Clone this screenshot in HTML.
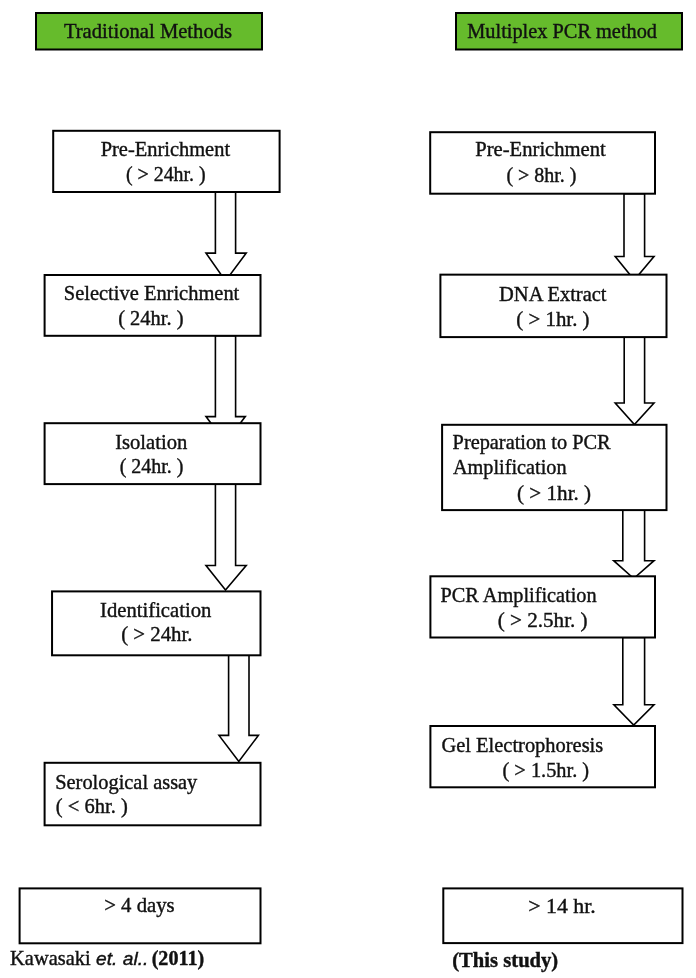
<!DOCTYPE html>
<html><head><meta charset="utf-8"><style>
html,body{margin:0;padding:0;background:#fff;width:696px;height:978px;overflow:hidden}
svg{display:block;filter:blur(0.3px)}
text{fill:#111;stroke:#111;stroke-width:0.4px}
</style></head><body>
<svg width="696" height="978" viewBox="0 0 696 978">
<polygon points="215.4,192.0 215.4,253.1 206.0,253.1 225.5,281.0 246.2,253.1 235.6,253.1 235.6,192.0" fill="#fff" stroke="#000" stroke-width="1.6" stroke-linejoin="miter"/>
<polygon points="215.4,335.8 215.4,416.6 206.0,416.6 225.5,443.0 245.3,416.6 235.6,416.6 235.6,335.8" fill="#fff" stroke="#000" stroke-width="1.6" stroke-linejoin="miter"/>
<polygon points="215.4,484.1 215.4,565.5 206.0,565.5 225.5,590.0 246.2,565.5 235.6,565.5 235.6,484.1" fill="#fff" stroke="#000" stroke-width="1.6" stroke-linejoin="miter"/>
<polygon points="228.6,655.3 228.6,735.4 219.0,735.4 238.8,761.5 258.4,735.4 249.0,735.4 249.0,655.3" fill="#fff" stroke="#000" stroke-width="1.6" stroke-linejoin="miter"/>
<polygon points="624.0,193.7 624.0,256.5 615.2,256.5 634.3,280.0 654.0,256.5 644.6,256.5 644.6,193.7" fill="#fff" stroke="#000" stroke-width="1.6" stroke-linejoin="miter"/>
<polygon points="624.2,337.1 624.2,403.0 615.2,403.0 634.4000000000001,424.5 654.0,403.0 644.6,403.0 644.6,337.1" fill="#fff" stroke="#000" stroke-width="1.6" stroke-linejoin="miter"/>
<polygon points="622.8,510.1 622.8,560.7 613.7,560.7 633.7,578.5 654.0,560.7 644.6,560.7 644.6,510.1" fill="#fff" stroke="#000" stroke-width="1.6" stroke-linejoin="miter"/>
<polygon points="622.8,637.5 622.8,704.7 613.9,704.7 633.7,725.0 654.0,704.7 644.6,704.7 644.6,637.5" fill="#fff" stroke="#000" stroke-width="1.6" stroke-linejoin="miter"/>
<rect x="36" y="13" width="226.00" height="36.50" fill="#66bb2c" stroke="#000" stroke-width="2"/>
<rect x="456" y="13" width="226.00" height="36.50" fill="#66bb2c" stroke="#000" stroke-width="2"/>
<rect x="53.2" y="130.8" width="226.40" height="61.20" fill="#fff" stroke="#000" stroke-width="2"/>
<rect x="44.6" y="275.0" width="215.90" height="60.80" fill="#fff" stroke="#000" stroke-width="2"/>
<rect x="44.6" y="423.2" width="215.90" height="60.90" fill="#fff" stroke="#000" stroke-width="2"/>
<rect x="52.05" y="591.4" width="208.45" height="63.90" fill="#fff" stroke="#000" stroke-width="2"/>
<rect x="44.6" y="762.8" width="215.90" height="62.50" fill="#fff" stroke="#000" stroke-width="2"/>
<rect x="19.6" y="888.4" width="240.90" height="54.90" fill="#fff" stroke="#000" stroke-width="2"/>
<rect x="430.2" y="132.2" width="224.80" height="61.50" fill="#fff" stroke="#000" stroke-width="2"/>
<rect x="440.4" y="274.65" width="226.10" height="62.45" fill="#fff" stroke="#000" stroke-width="2"/>
<rect x="442.1" y="424.8" width="224.40" height="85.30" fill="#fff" stroke="#000" stroke-width="2"/>
<rect x="430.4" y="576.3" width="224.60" height="61.20" fill="#fff" stroke="#000" stroke-width="2"/>
<rect x="430.4" y="726.0" width="224.60" height="61.30" fill="#fff" stroke="#000" stroke-width="2"/>
<rect x="443.3" y="888.4" width="239.20" height="54.70" fill="#fff" stroke="#000" stroke-width="2"/>
<text transform="translate(63.88,38.0) scale(0.9826,1)" font-family="Liberation Serif" font-size="21.0" xml:space="preserve">Traditional Methods</text>
<text transform="translate(467.28,38.4) scale(0.9689,1)" font-family="Liberation Serif" font-size="21.0" xml:space="preserve">Multiplex PCR method</text>
<text transform="translate(100.68,155.5) scale(0.9737,1)" font-family="Liberation Serif" font-size="21.0" xml:space="preserve">Pre-Enrichment</text>
<text transform="translate(125.88,181.0) scale(0.9487,1)" font-family="Liberation Serif" font-size="21.0" xml:space="preserve">( &gt; 24hr. )</text>
<text transform="translate(63.82,299.7) scale(0.9746,1)" font-family="Liberation Serif" font-size="21.0" xml:space="preserve">Selective Enrichment</text>
<text transform="translate(118.16,325.4) scale(0.9748,1)" font-family="Liberation Serif" font-size="21.0" xml:space="preserve">( 24hr. )</text>
<text transform="translate(115.16,448.5) scale(0.9817,1)" font-family="Liberation Serif" font-size="21.0" xml:space="preserve">Isolation</text>
<text transform="translate(119.68,473.3) scale(0.9519,1)" font-family="Liberation Serif" font-size="21.0" xml:space="preserve">( 24hr. )</text>
<text transform="translate(100.05,616.5) scale(0.9843,1)" font-family="Liberation Serif" font-size="21.0" xml:space="preserve">Identification</text>
<text transform="translate(121.15,641.3) scale(0.9921,1)" font-family="Liberation Serif" font-size="21.0" xml:space="preserve">( &gt; 24hr.</text>
<text transform="translate(55.23,788.5) scale(0.9713,1)" font-family="Liberation Serif" font-size="21.0" xml:space="preserve">Serological assay</text>
<text transform="translate(55.86,813.3) scale(0.9758,1)" font-family="Liberation Serif" font-size="21.0" xml:space="preserve">( &lt; 6hr. )</text>
<text transform="translate(104.23,911.9) scale(0.9881,1)" font-family="Liberation Serif" font-size="21.0" xml:space="preserve">&gt; 4 days</text>
<text transform="translate(10.08,965.0) scale(0.9730,1)" font-family="Liberation Serif" font-size="21.0" xml:space="preserve">Kawasaki</text>
<text transform="translate(96.10,965.0) scale(1.0366,1)" font-family="Liberation Sans" font-size="18.5" font-style="italic" xml:space="preserve">et. al..</text>
<text transform="translate(151.67,965.0) scale(0.9586,1)" font-family="Liberation Serif" font-size="21.0" font-weight="bold" xml:space="preserve">(2011)</text>
<text transform="translate(475.28,156.1) scale(0.9827,1)" font-family="Liberation Serif" font-size="21.0" xml:space="preserve">Pre-Enrichment</text>
<text transform="translate(506.38,181.8) scale(0.9523,1)" font-family="Liberation Serif" font-size="21.0" xml:space="preserve">( &gt; 8hr. )</text>
<text transform="translate(499.08,300.7) scale(0.9755,1)" font-family="Liberation Serif" font-size="21.0" xml:space="preserve">DNA Extract</text>
<text transform="translate(516.35,326.0) scale(0.9938,1)" font-family="Liberation Serif" font-size="21.0" xml:space="preserve">( &gt; 1hr. )</text>
<text transform="translate(452.58,448.5) scale(0.9687,1)" font-family="Liberation Serif" font-size="21.0" xml:space="preserve">Preparation to PCR</text>
<text transform="translate(452.90,474.4) scale(0.9660,1)" font-family="Liberation Serif" font-size="21.0" xml:space="preserve">Amplification</text>
<text transform="translate(517.04,499.7) scale(1.0062,1)" font-family="Liberation Serif" font-size="21.0" xml:space="preserve">( &gt; 1hr. )</text>
<text transform="translate(440.53,601.7) scale(0.9669,1)" font-family="Liberation Serif" font-size="21.0" xml:space="preserve">PCR Amplification</text>
<text transform="translate(497.74,627.0) scale(1.0057,1)" font-family="Liberation Serif" font-size="21.0" xml:space="preserve">( &gt; 2.5hr. )</text>
<text transform="translate(441.46,751.7) scale(0.9738,1)" font-family="Liberation Serif" font-size="21.0" xml:space="preserve">Gel Electrophoresis</text>
<text transform="translate(502.46,777.0) scale(0.9693,1)" font-family="Liberation Serif" font-size="21.0" xml:space="preserve">( &gt; 1.5hr. )</text>
<text transform="translate(528.28,912.6) scale(1.0394,1)" font-family="Liberation Serif" font-size="21.0" xml:space="preserve">&gt; 14 hr.</text>
<text transform="translate(452.26,966.6) scale(0.9827,1)" font-family="Liberation Serif" font-size="21.0" font-weight="bold" xml:space="preserve">(This study)</text>
</svg>
</body></html>
